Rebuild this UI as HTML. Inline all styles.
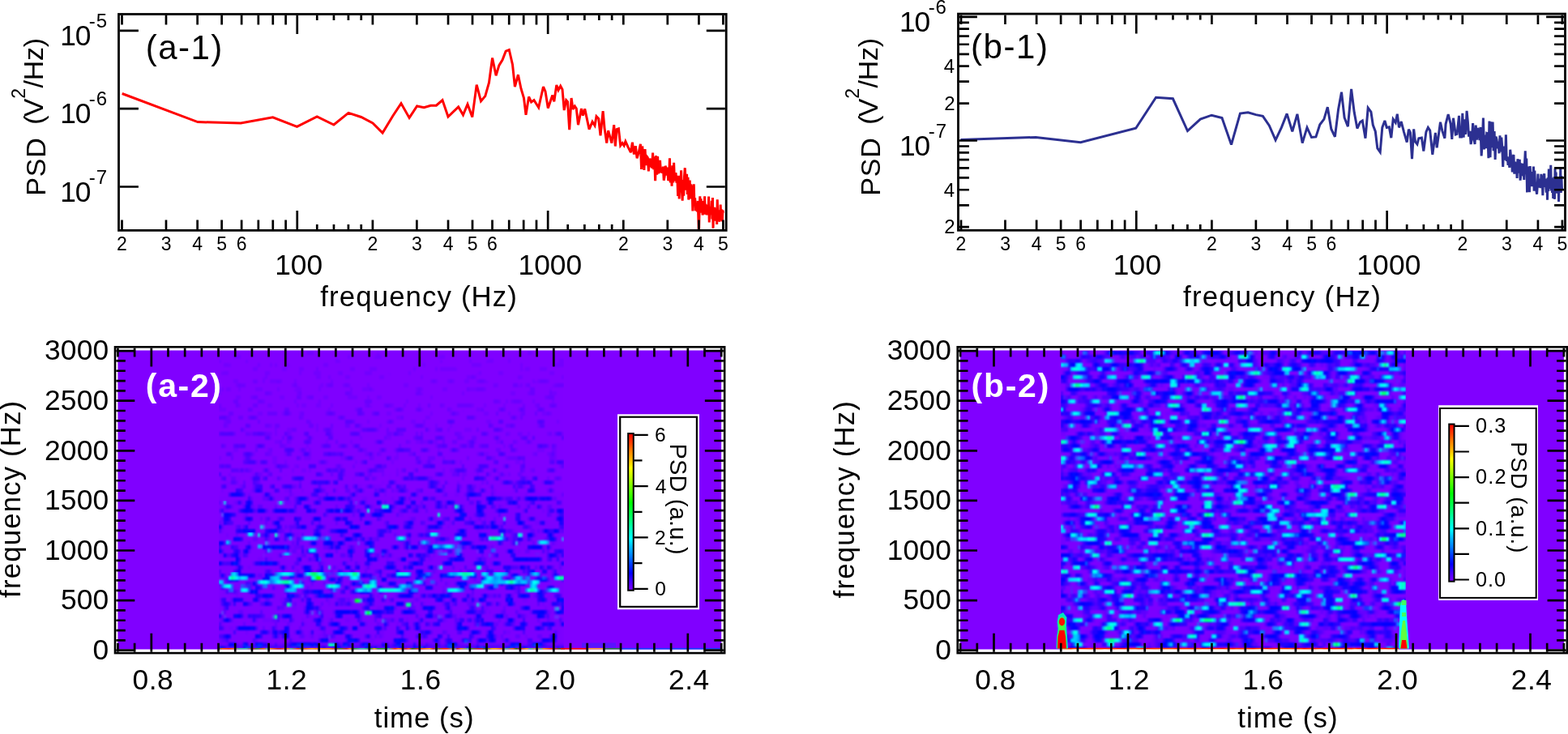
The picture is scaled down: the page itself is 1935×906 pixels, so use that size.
<!DOCTYPE html><html><head><meta charset="utf-8"><title>PSD spectra and spectrograms</title><style>html,body{margin:0;padding:0;background:#fff;overflow:hidden}svg{display:block}text{font-family:"Liberation Sans",Arial,Helvetica,sans-serif;font-kerning:none}</style></head><body>
<svg width="1935" height="906" viewBox="0 0 1935 906">
<rect width="1935" height="906" fill="#fff"/>
<clipPath id="a1c"><rect x="146.5" y="17.5" width="749.7" height="266.9"/></clipPath>
<path d="M150.7 115.5 L244 150.6 L297.1 152 L336.7 144.8 L366.5 156.3 L391.2 144 L411.9 154 L430 139.4 L445.7 144.5 L460 152 L472.1 164 L485 142.8 L495 127.6 L505.1 145.4 L514.6 131 L523.2 132.7 L531.5 130.2 L538.4 130.2 L546 123.6 L553 144 L565.7 131.9 L571.5 141.8 L577 128.6 L582.8 144.6 L588.2 104.6 L593.5 124.8 L598.8 118.6 L603.5 102 L607.6 71.5 L612.1 93.3 L615.9 80.6 L620 74 L624.2 63.2 L628.3 61.5 L632.5 79.7 L635.4 107 L639.4 92.2 L643 109.5 L646.5 121 L649 141.8 L652.6 119.5 L655.6 126 L659 123.6 L664.7 132.7 L670.5 107 L673 112.8 L676.3 133.5 L681.8 117.5 L683.8 125.3 L686.8 104.9 L689 111.2 L691.7 106.2 L694 110.4 L696.2 136 L698.7 123.6 L700.5 125.6 L702.7 160.1 L705.1 121 L707 134.9 L709.3 131 L711.3 134.1 L713.5 154.2 L717.5 134.1 L719.4 142.6 L721.7 134.4 L727.1 159.6 L731 150.3 L734 155 L736 143.7 L738.7 146.5 L741 167.3 L744.1 137.2 L746 158.1 L748.7 176.6 L750.6 161.2 L754.9 176.6 L757.7 154.2 L759.3 180.5 L761.1 159.6 L763.4 158.8 L765.7 179.7 L768.1 176.6 L770.1 179.7 L771.9 174.6 L775 181.3 L778.4 188.2 L780.4 175.8 L782.4 190.5 L784.3 180.2 L786.1 195.2 L788.2 188.2 L790.4 177.88 L791.54 208.91 L792.67 180.49 L793.8 192.78 L794.91 209.91 L796.02 184.14 L797.12 204.11 L798.2 193.17 L799.28 194.61 L800.35 211.3 L801.42 195.51 L802.47 206.26 L803.52 195.54 L804.55 207.51 L805.58 188.51 L806.61 209.29 L807.62 193.39 L808.63 223.32 L809.63 191.99 L810.62 215.79 L811.6 193 L812.58 214.35 L813.55 203.92 L814.51 197.86 L815.47 213.15 L816.42 207.14 L817.36 213.74 L818.3 205.61 L819.23 222.74 L820.15 217.47 L821.07 204.77 L821.98 207.58 L822.88 216.52 L823.78 206.61 L824.68 222.85 L825.56 220.6 L826.44 195.23 L827.32 225.42 L828.19 208.1 L829.05 229.8 L829.91 204.25 L830.76 225.56 L831.61 200.87 L832.45 223.37 L833.29 214.36 L834.12 214.54 L834.95 225.62 L835.77 216.71 L836.59 242.02 L837.4 216.9 L838.21 245.46 L839.01 216.95 L839.81 232.42 L840.6 210.38 L841.39 235.24 L842.17 247.78 L842.95 221.94 L843.73 241.59 L844.5 217.65 L845.26 207.22 L846.02 221.89 L846.78 234.59 L847.53 214.85 L848.28 240.08 L849.03 218.82 L849.77 246.57 L850.5 226.98 L851.23 222.65 L851.96 245.55 L852.69 227.61 L853.41 232 L854.12 231.46 L854.84 260.53 L855.55 237.98 L856.25 227.4 L856.95 253.52 L857.65 244.2 L858.35 260.26 L859.04 255.98 L859.72 258 L860.41 261.07 L861.09 247.95 L861.77 266.12 L862.44 290 L863.11 258.12 L863.78 242.29 L864.44 255.14 L865.1 245.25 L865.76 262.73 L866.41 247.98 L867.06 265.53 L867.71 260.14 L868.35 263.2 L868.99 260.46 L869.63 242.41 L870.27 264.71 L870.9 251.92 L871.53 262.48 L872.16 265.21 L872.78 255.16 L873.4 254.4 L874.02 264.88 L874.63 242.6 L875.25 274.51 L875.85 255.16 L876.46 262.63 L877.07 258.14 L877.67 265.02 L878.27 247.91 L878.86 270.47 L879.45 244.1 L880.05 281.63 L880.63 259.13 L881.22 267.42 L881.8 255.82 L882.38 272.57 L882.96 260.72 L883.54 268.86 L884.11 257.45 L884.68 276.96 L885.25 246.25 L885.81 266.99 L886.38 259.3 L886.94 268.13 L887.5 273.44 L888.05 272.33 L888.61 270.08 L889.16 252.67 L889.71 268.18 L890.26 258.56 L890.8 261.36 L891.34 273.37 L891.88 259.42 L892.42 262.87" fill="none" stroke="#ff0000" stroke-width="3" stroke-linejoin="miter" stroke-miterlimit="3" clip-path="url(#a1c)"/>
<rect x="146.5" y="17.5" width="749.7" height="266.9" fill="none" stroke="#000" stroke-width="2.8"/>
<path d="M150.5 283L150.5 271.5M150.5 18.9L150.5 30.4M204.98 283L204.98 271.5M204.98 18.9L204.98 30.4M243.64 283L243.64 271.5M243.64 18.9L243.64 30.4M273.62 283L273.62 271.5M273.62 18.9L273.62 30.4M298.12 283L298.12 271.5M298.12 18.9L298.12 30.4M318.83 283L318.83 271.5M318.83 18.9L318.83 30.4M336.78 283L336.78 271.5M336.78 18.9L336.78 30.4M352.6 283L352.6 271.5M352.6 18.9L352.6 30.4M366.76 283L366.76 260M366.76 18.9L366.76 41.9M459.9 283L459.9 271.5M459.9 18.9L459.9 30.4M514.38 283L514.38 271.5M514.38 18.9L514.38 30.4M553.04 283L553.04 271.5M553.04 18.9L553.04 30.4M583.02 283L583.02 271.5M583.02 18.9L583.02 30.4M607.52 283L607.52 271.5M607.52 18.9L607.52 30.4M628.23 283L628.23 271.5M628.23 18.9L628.23 30.4M646.18 283L646.18 271.5M646.18 18.9L646.18 30.4M662 283L662 271.5M662 18.9L662 30.4M676.16 283L676.16 260M676.16 18.9L676.16 41.9M769.3 283L769.3 271.5M769.3 18.9L769.3 30.4M823.78 283L823.78 271.5M823.78 18.9L823.78 30.4M862.44 283L862.44 271.5M862.44 18.9L862.44 30.4M892.42 283L892.42 271.5M892.42 18.9L892.42 30.4M391.26 283L391.26 277M391.26 18.9L391.26 24.9M411.97 283L411.97 277M411.97 18.9L411.97 24.9M429.92 283L429.92 277M429.92 18.9L429.92 24.9M445.74 283L445.74 277M445.74 18.9L445.74 24.9M700.66 283L700.66 277M700.66 18.9L700.66 24.9M721.37 283L721.37 277M721.37 18.9L721.37 24.9M739.32 283L739.32 277M739.32 18.9L739.32 24.9M755.14 283L755.14 277M755.14 18.9L755.14 24.9M147.9 37.9L170.9 37.9M894.8 37.9L871.8 37.9M147.9 134.2L170.9 134.2M894.8 134.2L871.8 134.2M147.9 230.5L170.9 230.5M894.8 230.5L871.8 230.5" stroke="#000" stroke-width="2.7" fill="none"/>
<text x="144.1" y="309.2" font-size="23">2</text>
<text x="198.65" y="309.2" font-size="23">3</text>
<text x="237.32" y="309.2" font-size="23">4</text>
<text x="267.25" y="309.2" font-size="23">5</text>
<text x="291.65" y="309.2" font-size="23">6</text>
<text x="453.5" y="309.2" font-size="23">2</text>
<text x="508.05" y="309.2" font-size="23">3</text>
<text x="546.72" y="309.2" font-size="23">4</text>
<text x="576.65" y="309.2" font-size="23">5</text>
<text x="601.05" y="309.2" font-size="23">6</text>
<text x="762.9" y="309.2" font-size="23">2</text>
<text x="817.45" y="309.2" font-size="23">3</text>
<text x="856.12" y="309.2" font-size="23">4</text>
<text x="886.05" y="309.2" font-size="23">5</text>
<clipPath id="b1c"><rect x="1182.5" y="17.1" width="749" height="267.2"/></clipPath>
<path d="M1185.4 172.5 L1278.4 169.4 L1333.5 175.7 L1401.7 158.2 L1426.5 120.2 L1447.4 121.8 L1465.5 161.6 L1481.3 147.1 L1495.2 142.2 L1508 145.6 L1519.5 178.6 L1530.4 140 L1540.1 138.8 L1549.9 141.6 L1558.4 143.4 L1566.3 155 L1574.1 172.8 L1581.4 157.4 L1588.1 140.4 L1594.8 162.3 L1600.9 140.8 L1607.2 176.5 L1613 157.4 L1618.5 169.5 L1623.9 168.9 L1628.8 153.8 L1633.9 147.1 L1638.3 132.3 L1642.8 159.2 L1647.4 168.9 L1651.6 134.9 L1655.5 113.7 L1659.1 145.2 L1663.4 156.2 L1667.6 110 L1671.2 138.6 L1674.9 158.6 L1678.5 150.7 L1681.3 148.9 L1685 170.7 L1688.2 133.1 L1691.9 138 L1694.3 154.3 L1697.3 162.2 L1699.8 182.9 L1703.2 187.7 L1705.8 157.4 L1708.9 148.9 L1711.3 157.4 L1714.3 156.8 L1716.8 170.1 L1719.2 147.1 L1722.2 151.3 L1724.3 140.7 L1726.5 157.4 L1729.2 150.1 L1732.5 162.8 L1736.2 175.6 L1738.4 159.8 L1740.4 163.4 L1742.5 196.2 L1744.7 159.4 L1746.5 175 L1748.9 178 L1750.8 170.7 L1754.4 170.1 L1756.8 186.5 L1759.9 162.8 L1762.3 157.4 L1764.7 161 L1767.8 190.8 L1771.4 164 L1773.2 182.3 L1777.5 150.7 L1779.9 161.6 L1782.9 170.7 L1784.1 153.1 L1787.2 141 L1790.2 153.1 L1791.8 171.9 L1793.5 145.8 L1796.3 165.9 L1798.1 165.3 L1800.5 142.8 L1801.7 168.9 L1803.6 168.9 L1804.8 139.85 L1806.14 169.73 L1807.46 147.46 L1808.77 165.91 L1810.07 136.91 L1811.36 150.05 L1812.63 168.64 L1813.89 161.9 L1815.14 178.08 L1816.38 171.12 L1817.61 152 L1818.82 170.34 L1820.03 178.03 L1821.22 154.49 L1822.41 172.65 L1823.58 158.03 L1824.74 161.23 L1825.9 173.17 L1827.04 156.95 L1828.17 192.39 L1829.3 174.73 L1830.41 145.46 L1831.52 184.41 L1832.62 166.49 L1833.7 183.09 L1834.78 164.41 L1835.85 164.78 L1836.92 195.11 L1837.97 149.42 L1839.02 194.27 L1840.05 150.28 L1841.08 182.08 L1842.11 150.53 L1843.12 186.16 L1844.13 162.13 L1845.13 196.99 L1846.12 168.58 L1847.1 172.43 L1848.08 183.21 L1849.05 174.69 L1850.01 189.29 L1850.97 167.34 L1851.92 187.44 L1852.86 169.5 L1853.8 181.93 L1854.73 205.96 L1855.65 180.57 L1856.57 184.38 L1857.48 197.76 L1858.38 166.19 L1859.28 198.86 L1860.18 193.38 L1861.06 203.88 L1861.94 197.37 L1862.82 206.98 L1863.69 184.74 L1864.55 193.04 L1865.41 193.19 L1866.26 212.45 L1867.11 192.93 L1867.95 191.08 L1868.79 214.75 L1869.62 199.55 L1870.45 209.57 L1871.27 200.6 L1872.09 219.83 L1872.9 196.2 L1873.71 208.83 L1874.51 213.39 L1875.31 196.86 L1876.1 222.69 L1876.89 216.04 L1877.67 203.58 L1878.45 201.77 L1879.23 217.24 L1880 204.51 L1880.76 221.82 L1881.52 202.13 L1882.28 186.41 L1883.03 215.21 L1883.78 195.45 L1884.53 237.38 L1885.27 209.76 L1886 218.92 L1886.73 205.55 L1887.46 237.22 L1888.19 204.98 L1888.91 220.28 L1889.62 212.17 L1890.34 230.15 L1891.05 213.78 L1891.75 224.17 L1892.45 205.47 L1893.15 235.82 L1893.85 210.5 L1894.54 227.47 L1895.22 232.93 L1895.91 235.32 L1896.59 239.71 L1897.27 229.71 L1897.94 214.47 L1898.61 231.74 L1899.28 221.9 L1899.94 231.17 L1900.6 220.66 L1901.26 232.1 L1901.91 214.85 L1902.56 231.8 L1903.21 220.5 L1903.85 241.29 L1904.49 220.86 L1905.13 216.61 L1905.77 214.35 L1906.4 230.88 L1907.03 222.5 L1907.66 230.21 L1908.28 237.67 L1908.9 220.56 L1909.52 246.65 L1910.13 219.37 L1910.75 236.16 L1911.35 208.57 L1911.96 233.11 L1912.57 222.49 L1913.17 232.16 L1913.77 203.78 L1914.36 235.59 L1914.95 224.17 L1915.55 238.01 L1916.13 219.57 L1916.72 245.04 L1917.3 232.63 L1917.88 218.37 L1918.46 245.85 L1919.04 208.14 L1919.61 230.07 L1920.18 212.55 L1920.75 238.64 L1921.31 224.42 L1921.88 231.45 L1922.44 237.21 L1923 218.84 L1923.55 249.02 L1924.11 223.6 L1924.66 232.42 L1925.21 235.25 L1925.76 207.13 L1926.3 237.85 L1926.84 216.97 L1927.38 231.27 L1927.92 234.18" fill="none" stroke="#2c3091" stroke-width="3" stroke-linejoin="miter" stroke-miterlimit="3" clip-path="url(#b1c)"/>
<rect x="1182.5" y="17.1" width="749" height="267.2" fill="none" stroke="#000" stroke-width="2.8"/>
<path d="M1186 282.9L1186 271.4M1186 18.5L1186 30M1240.48 282.9L1240.48 271.4M1240.48 18.5L1240.48 30M1279.14 282.9L1279.14 271.4M1279.14 18.5L1279.14 30M1309.12 282.9L1309.12 271.4M1309.12 18.5L1309.12 30M1333.62 282.9L1333.62 271.4M1333.62 18.5L1333.62 30M1354.33 282.9L1354.33 271.4M1354.33 18.5L1354.33 30M1372.28 282.9L1372.28 271.4M1372.28 18.5L1372.28 30M1388.1 282.9L1388.1 271.4M1388.1 18.5L1388.1 30M1402.26 282.9L1402.26 259.9M1402.26 18.5L1402.26 41.5M1495.4 282.9L1495.4 271.4M1495.4 18.5L1495.4 30M1549.88 282.9L1549.88 271.4M1549.88 18.5L1549.88 30M1588.54 282.9L1588.54 271.4M1588.54 18.5L1588.54 30M1618.52 282.9L1618.52 271.4M1618.52 18.5L1618.52 30M1643.02 282.9L1643.02 271.4M1643.02 18.5L1643.02 30M1663.73 282.9L1663.73 271.4M1663.73 18.5L1663.73 30M1681.68 282.9L1681.68 271.4M1681.68 18.5L1681.68 30M1697.5 282.9L1697.5 271.4M1697.5 18.5L1697.5 30M1711.66 282.9L1711.66 259.9M1711.66 18.5L1711.66 41.5M1804.8 282.9L1804.8 271.4M1804.8 18.5L1804.8 30M1859.28 282.9L1859.28 271.4M1859.28 18.5L1859.28 30M1897.94 282.9L1897.94 271.4M1897.94 18.5L1897.94 30M1927.92 282.9L1927.92 271.4M1927.92 18.5L1927.92 30M1426.76 282.9L1426.76 276.9M1426.76 18.5L1426.76 24.5M1447.47 282.9L1447.47 276.9M1447.47 18.5L1447.47 24.5M1465.42 282.9L1465.42 276.9M1465.42 18.5L1465.42 24.5M1481.24 282.9L1481.24 276.9M1481.24 18.5L1481.24 24.5M1736.16 282.9L1736.16 276.9M1736.16 18.5L1736.16 24.5M1756.87 282.9L1756.87 276.9M1756.87 18.5L1756.87 24.5M1774.82 282.9L1774.82 276.9M1774.82 18.5L1774.82 24.5M1790.64 282.9L1790.64 276.9M1790.64 18.5L1790.64 24.5M1183.9 20.9L1205.9 20.9M1930.1 20.9L1908.1 20.9M1183.9 173.5L1205.9 173.5M1930.1 173.5L1908.1 173.5M1183.9 127.56L1195.9 127.56M1930.1 127.56L1918.1 127.56M1183.9 100.69L1195.9 100.69M1930.1 100.69L1918.1 100.69M1183.9 81.63L1195.9 81.63M1930.1 81.63L1918.1 81.63M1183.9 66.84L1195.9 66.84M1930.1 66.84L1918.1 66.84M1183.9 54.75L1195.9 54.75M1930.1 54.75L1918.1 54.75M1183.9 44.54L1195.9 44.54M1930.1 44.54L1918.1 44.54M1183.9 35.69L1195.9 35.69M1930.1 35.69L1918.1 35.69M1183.9 27.88L1195.9 27.88M1930.1 27.88L1918.1 27.88M1183.9 280.16L1195.9 280.16M1930.1 280.16L1918.1 280.16M1183.9 253.29L1195.9 253.29M1930.1 253.29L1918.1 253.29M1183.9 234.23L1195.9 234.23M1930.1 234.23L1918.1 234.23M1183.9 219.44L1195.9 219.44M1930.1 219.44L1918.1 219.44M1183.9 207.35L1195.9 207.35M1930.1 207.35L1918.1 207.35M1183.9 197.14L1195.9 197.14M1930.1 197.14L1918.1 197.14M1183.9 188.29L1195.9 188.29M1930.1 188.29L1918.1 188.29M1183.9 180.48L1195.9 180.48M1930.1 180.48L1918.1 180.48" stroke="#000" stroke-width="2.7" fill="none"/>
<text x="1179.6" y="309.2" font-size="23">2</text>
<text x="1234.15" y="309.2" font-size="23">3</text>
<text x="1272.82" y="309.2" font-size="23">4</text>
<text x="1302.75" y="309.2" font-size="23">5</text>
<text x="1327.15" y="309.2" font-size="23">6</text>
<text x="1489" y="309.2" font-size="23">2</text>
<text x="1543.55" y="309.2" font-size="23">3</text>
<text x="1582.22" y="309.2" font-size="23">4</text>
<text x="1612.15" y="309.2" font-size="23">5</text>
<text x="1636.55" y="309.2" font-size="23">6</text>
<text x="1798.4" y="309.2" font-size="23">2</text>
<text x="1852.95" y="309.2" font-size="23">3</text>
<text x="1891.62" y="309.2" font-size="23">4</text>
<text x="1921.55" y="309.2" font-size="23">5</text>
<text x="179.7" y="72.7" font-size="42" letter-spacing="1.48">(a-1)</text>
<text x="74.21" y="55.9" font-size="35.3" letter-spacing="-1.2">10</text>
<text x="109.83" y="33.9" font-size="24" letter-spacing="0.83">-5</text>
<text x="74.21" y="152.2" font-size="35.3" letter-spacing="-1.2">10</text>
<text x="109.83" y="130.2" font-size="24" letter-spacing="0.88">-6</text>
<text x="74.21" y="248.5" font-size="35.3" letter-spacing="-1.2">10</text>
<text x="109.83" y="226.5" font-size="24" letter-spacing="1.03">-7</text>
<text x="339.21" y="339.4" font-size="35.3" letter-spacing="-0.01">100</text>
<text x="639.61" y="339.4" font-size="35.3" letter-spacing="-0.02">1000</text>
<text x="395.31" y="377.9" font-size="34.8" letter-spacing="1.11">frequency (Hz)</text>
<text x="-241.69" y="0" transform="translate(56.3 0) rotate(-90)" font-size="34" letter-spacing="0.85">PSD</text>
<text x="-153.81" y="0" transform="translate(53.2 0) rotate(-90)" font-size="34" letter-spacing="-1.84">(V</text>
<text x="-121.66" y="0" transform="translate(30.8 0) rotate(-90)" font-size="23">2</text>
<text x="-108.5" y="0" transform="translate(53.2 0) rotate(-90)" font-size="34" letter-spacing="-0.24">/Hz)</text>
<text x="-241.69" y="0" transform="translate(1085.7 0) rotate(-90)" font-size="34" letter-spacing="0.85">PSD</text>
<text x="-153.81" y="0" transform="translate(1082.6 0) rotate(-90)" font-size="34" letter-spacing="-1.84">(V</text>
<text x="-121.66" y="0" transform="translate(1060.2 0) rotate(-90)" font-size="23">2</text>
<text x="-108.5" y="0" transform="translate(1082.6 0) rotate(-90)" font-size="34" letter-spacing="-0.24">/Hz)</text>
<text x="1197.9" y="72.2" font-size="42" letter-spacing="1.63">(b-1)</text>
<text x="1110.01" y="38.9" font-size="35.3" letter-spacing="-1.2">10</text>
<text x="1145.63" y="16.9" font-size="24" letter-spacing="0.88">-6</text>
<text x="1110.01" y="191.5" font-size="35.3" letter-spacing="-1.2">10</text>
<text x="1145.63" y="169.5" font-size="24" letter-spacing="1.03">-7</text>
<text x="1164.66" y="89.93" font-size="24">4</text>
<text x="1165.16" y="135.86" font-size="24">2</text>
<text x="1164.66" y="242.53" font-size="24">4</text>
<text x="1165.16" y="288.46" font-size="24">2</text>
<text x="1373.71" y="339.4" font-size="35.3" letter-spacing="0.29">100</text>
<text x="1674.21" y="339.4" font-size="35.3" letter-spacing="0.21">1000</text>
<text x="1460.11" y="377.9" font-size="34.8" letter-spacing="1.2">frequency (Hz)</text>
<rect x="145.4" y="432.5" width="744.8" height="369" fill="#8000ff"/>
<linearGradient id="ga2_0" x1="0" y1="0" x2="0" y2="1"><stop offset="0" stop-color="rgb(12,125,0)"/><stop offset="0.17" stop-color="rgb(26,125,0)"/><stop offset="0.4" stop-color="rgb(51,125,0)"/><stop offset="0.5" stop-color="rgb(82,128,0)"/><stop offset="0.74" stop-color="rgb(97,128,0)"/><stop offset="0.82" stop-color="rgb(97,128,0)"/><stop offset="0.9" stop-color="rgb(87,128,0)"/><stop offset="0.98" stop-color="rgb(92,128,0)"/><stop offset="0.99" stop-color="rgb(102,135,0)"/><stop offset="1" stop-color="rgb(102,138,0)"/></linearGradient>
<filter id="fa2_0" x="0" y="0" width="1" height="1" color-interpolation-filters="sRGB"><feTurbulence type="fractalNoise" baseFrequency="0.08 0.15" numOctaves="2" seed="5" result="t"/><feColorMatrix in="t" type="matrix" values="1 0 0 0 0 1 0 0 0 0 1 0 0 0 0 0 0 0 0 1" result="n0"/><feFlood x="271" y="435" width="1" height="1" flood-color="#fff" result="fl"/><feComposite in="fl" x="270" y="433" width="3" height="5" result="tl"/><feTile in="tl" result="gr"/><feComposite in="n0" in2="gr" operator="in" result="sm"/><feMorphology in="sm" operator="dilate" radius="1 2" result="n"/><feComponentTransfer in="n" result="w"><feFuncR type="table" tableValues="0 0 0 0 0 0 0 0 0 0 0 0.03 0.07 0.1 0.12 0.13 0.14 0.14 0.14 0.14 0.14"/><feFuncG type="table" tableValues="0 0 0 0 0 0 0 0 0 0 0 0.03 0.07 0.1 0.12 0.13 0.14 0.14 0.14 0.14 0.14"/><feFuncB type="table" tableValues="0 0 0 0 0 0 0 0 0 0 0 0.03 0.07 0.1 0.12 0.13 0.14 0.14 0.14 0.14 0.14"/></feComponentTransfer><feComposite in="w" in2="SourceGraphic" operator="arithmetic" k1="1" k2="0" k3="0" k4="0" result="p"/><feColorMatrix in="p" type="matrix" values="1 0 0 0 0 1 0 0 0 0 1 0 0 0 0 0 0 0 0 1" result="p2"/><feColorMatrix in="SourceGraphic" type="matrix" values="0 1 0 0 0 0 1 0 0 0 0 1 0 0 0 0 0 0 0 1" result="g2"/><feComposite in="p2" in2="g2" operator="arithmetic" k1="0" k2="2.5" k3="1" k4="-0.5" result="v"/><feComponentTransfer in="v"><feFuncR type="table" tableValues="0.5 0.25 0 0 0 0 0 0 0 0 0 0.25 0.5 0.75 1 1 1 1 1"/><feFuncG type="table" tableValues="0 0 0 0.25 0.5 0.75 1 1 1 1 1 1 1 1 1 0.75 0.5 0.25 0"/><feFuncB type="table" tableValues="1 1 1 1 1 1 1 0.75 0.5 0.25 0 0 0 0 0 0 0 0 0"/><feFuncA type="table" tableValues="1 1"/></feComponentTransfer><feGaussianBlur stdDeviation="0.8"/></filter>
<rect x="270" y="433" width="426" height="368" fill="url(#ga2_0)" filter="url(#fa2_0)"/>
<filter id="fa2_1" x="0" y="0" width="1" height="1" color-interpolation-filters="sRGB"><feTurbulence type="fractalNoise" baseFrequency="0.06 0.22" numOctaves="2" seed="21" result="t"/><feColorMatrix in="t" type="matrix" values="1 0 0 0 0 1 0 0 0 0 1 0 0 0 0 1 0 0 0 0" result="n0"/><feFlood x="271" y="620" width="1" height="1" flood-color="#fff" result="fl"/><feComposite in="fl" x="270" y="618" width="3" height="5" result="tl"/><feTile in="tl" result="gr"/><feComposite in="n0" in2="gr" operator="in" result="sm"/><feMorphology in="sm" operator="dilate" radius="1 2" result="n"/><feComponentTransfer in="n"><feFuncR type="table" tableValues="0.5 0.47 0.45 0.42 0.39 0.37 0.34 0.32 0.29 0.26 0.24 0.21 0.19 0.16 0.13 0.11 0.08 0.05 0.03 0 0 0 0 0 0 0 0 0 0 0 0 0 0 0 0 0 0 0.26 0.54 0.82 1"/><feFuncG type="table" tableValues="0 0 0 0 0 0 0 0 0 0 0 0 0 0 0 0 0 0 0 0 0.03 0.05 0.08 0.1 0.13 0.3 0.47 0.64 0.77 0.91 1 1 1 1 1 1 1 1 1 1 0.9"/><feFuncB type="table" tableValues="1 1 1 1 1 1 1 1 1 1 1 1 1 1 1 1 1 1 1 1 1 1 1 1 1 1 1 1 1 1 0.98 0.88 0.79 0.62 0.45 0.28 0.02 0 0 0 0"/><feFuncA type="table" tableValues="0 0 0 0 0 0 0 0 0 0 0 0 0 0 0 0 0 0 0 0 0 0 0 0 0 0 0 0 0 0 0.33 1 1 1 1 1 1 1 1 1 1"/></feComponentTransfer><feGaussianBlur stdDeviation="0.8"/></filter>
<rect x="270" y="618" width="426" height="86" fill="#000" filter="url(#fa2_1)"/>
<filter id="fa2_2" x="0" y="0" width="1" height="1" color-interpolation-filters="sRGB"><feTurbulence type="fractalNoise" baseFrequency="0.04 0.25" numOctaves="2" seed="24" result="t"/><feColorMatrix in="t" type="matrix" values="1 0 0 0 0 1 0 0 0 0 1 0 0 0 0 1 0 0 0 0" result="n0"/><feFlood x="271" y="659" width="1" height="1" flood-color="#fff" result="fl"/><feComposite in="fl" x="270" y="657" width="3" height="5" result="tl"/><feTile in="tl" result="gr"/><feComposite in="n0" in2="gr" operator="in" result="sm"/><feMorphology in="sm" operator="dilate" radius="1 2" result="n"/><feComponentTransfer in="n"><feFuncR type="table" tableValues="0.5 0.47 0.45 0.42 0.39 0.37 0.34 0.32 0.29 0.26 0.24 0.21 0.19 0.16 0.13 0.11 0.08 0.05 0.03 0 0 0 0 0 0 0 0 0 0 0 0 0 0 0 0 0 0 0.26 0.54 0.82 1"/><feFuncG type="table" tableValues="0 0 0 0 0 0 0 0 0 0 0 0 0 0 0 0 0 0 0 0 0.03 0.05 0.08 0.1 0.13 0.3 0.47 0.64 0.77 0.91 1 1 1 1 1 1 1 1 1 1 0.9"/><feFuncB type="table" tableValues="1 1 1 1 1 1 1 1 1 1 1 1 1 1 1 1 1 1 1 1 1 1 1 1 1 1 1 1 1 1 0.98 0.88 0.79 0.62 0.45 0.28 0.02 0 0 0 0"/><feFuncA type="table" tableValues="0 0 0 0 0 0 0 0 0 0 0 0 0 0 0 0 0 0 0 0 0 0 0 0 0 0 0 0.5 1 1 1 1 1 1 1 1 1 1 1 1 1"/></feComponentTransfer><feGaussianBlur stdDeviation="0.8"/></filter>
<rect x="270" y="657" width="426" height="29" fill="#000" filter="url(#fa2_2)"/>
<filter id="fa2_3" x="0" y="0" width="1" height="1" color-interpolation-filters="sRGB"><feTurbulence type="fractalNoise" baseFrequency="0.045 0.25" numOctaves="2" seed="22" result="t"/><feColorMatrix in="t" type="matrix" values="1 0 0 0 0 1 0 0 0 0 1 0 0 0 0 1 0 0 0 0" result="n0"/><feFlood x="271" y="708" width="1" height="1" flood-color="#fff" result="fl"/><feComposite in="fl" x="270" y="706" width="3" height="5" result="tl"/><feTile in="tl" result="gr"/><feComposite in="n0" in2="gr" operator="in" result="sm"/><feMorphology in="sm" operator="dilate" radius="1 2" result="n"/><feComponentTransfer in="n"><feFuncR type="table" tableValues="0.5 0.47 0.43 0.4 0.36 0.33 0.3 0.26 0.23 0.2 0.16 0.13 0.09 0.06 0.03 0 0 0 0 0 0 0 0 0 0 0 0 0 0 0 0 0 0 0.07 0.32 0.64 0.99 1 1 1 1"/><feFuncG type="table" tableValues="0 0 0 0 0 0 0 0 0 0 0 0 0 0 0 0.01 0.04 0.07 0.11 0.14 0.18 0.34 0.51 0.66 0.79 0.91 1 1 1 1 1 1 1 1 1 1 1 0.66 0.37 0.19 0"/><feFuncB type="table" tableValues="1 1 1 1 1 1 1 1 1 1 1 1 1 1 1 1 1 1 1 1 1 1 1 1 1 1 1 0.92 0.83 0.69 0.55 0.41 0.18 0 0 0 0 0 0 0 0"/><feFuncA type="table" tableValues="0 0 0 0 0 0 0 0 0 0 0 0 0 0 0 0 0 0 0 0 0 0 0.67 1 1 1 1 1 1 1 1 1 1 1 1 1 1 1 1 1 1"/></feComponentTransfer><feGaussianBlur stdDeviation="0.8"/></filter>
<rect x="270" y="706" width="426" height="26" fill="#000" filter="url(#fa2_3)"/>
<filter id="fa2_4" x="0" y="0" width="1" height="1" color-interpolation-filters="sRGB"><feTurbulence type="fractalNoise" baseFrequency="0.06 0.22" numOctaves="2" seed="23" result="t"/><feColorMatrix in="t" type="matrix" values="1 0 0 0 0 1 0 0 0 0 1 0 0 0 0 1 0 0 0 0" result="n0"/><feFlood x="271" y="736" width="1" height="1" flood-color="#fff" result="fl"/><feComposite in="fl" x="270" y="734" width="3" height="5" result="tl"/><feTile in="tl" result="gr"/><feComposite in="n0" in2="gr" operator="in" result="sm"/><feMorphology in="sm" operator="dilate" radius="1 2" result="n"/><feComponentTransfer in="n"><feFuncR type="table" tableValues="0.5 0.47 0.45 0.42 0.39 0.37 0.34 0.32 0.29 0.26 0.24 0.21 0.19 0.16 0.13 0.11 0.08 0.05 0.03 0 0 0 0 0 0 0 0 0 0 0 0 0 0 0 0 0 0 0.26 0.54 0.82 1"/><feFuncG type="table" tableValues="0 0 0 0 0 0 0 0 0 0 0 0 0 0 0 0 0 0 0 0 0.03 0.05 0.08 0.1 0.13 0.3 0.47 0.64 0.77 0.91 1 1 1 1 1 1 1 1 1 1 0.9"/><feFuncB type="table" tableValues="1 1 1 1 1 1 1 1 1 1 1 1 1 1 1 1 1 1 1 1 1 1 1 1 1 1 1 1 1 1 0.98 0.88 0.79 0.62 0.45 0.28 0.02 0 0 0 0"/><feFuncA type="table" tableValues="0 0 0 0 0 0 0 0 0 0 0 0 0 0 0 0 0 0 0 0 0 0 0 0 0 0 0 0 0 0 0 0.5 1 1 1 1 1 1 1 1 1"/></feComponentTransfer><feGaussianBlur stdDeviation="0.8"/></filter>
<rect x="270" y="734" width="426" height="64" fill="#000" filter="url(#fa2_4)"/>
<linearGradient id="bl1" x1="0" y1="0" x2="1" y2="0"><stop offset="0" stop-color="#208000"/><stop offset="0.01" stop-color="#ff6000"/><stop offset="0.03" stop-color="#ff3000"/><stop offset="0.04" stop-color="#ff6000"/><stop offset="0.06" stop-color="#40c0a0"/><stop offset="0.07" stop-color="#40c0a0"/><stop offset="0.08" stop-color="#40c0a0"/><stop offset="0.1" stop-color="#d02020"/><stop offset="0.11" stop-color="#30a020"/><stop offset="0.13" stop-color="#ff6000"/><stop offset="0.14" stop-color="#40c0a0"/><stop offset="0.15" stop-color="#ff9000"/><stop offset="0.17" stop-color="#d02020"/><stop offset="0.18" stop-color="#d02020"/><stop offset="0.2" stop-color="#ff9000"/><stop offset="0.21" stop-color="#40c0a0"/><stop offset="0.23" stop-color="#ff3000"/><stop offset="0.24" stop-color="#30a020"/><stop offset="0.25" stop-color="#ff6000"/><stop offset="0.27" stop-color="#ffb000"/><stop offset="0.28" stop-color="#ff9000"/><stop offset="0.3" stop-color="#ff9000"/><stop offset="0.31" stop-color="#ff9000"/><stop offset="0.32" stop-color="#ff9000"/><stop offset="0.34" stop-color="#d02020"/><stop offset="0.35" stop-color="#30a020"/><stop offset="0.37" stop-color="#d02020"/><stop offset="0.38" stop-color="#ff9000"/><stop offset="0.39" stop-color="#30a020"/><stop offset="0.41" stop-color="#40c0a0"/><stop offset="0.42" stop-color="#40c0a0"/><stop offset="0.44" stop-color="#30a020"/><stop offset="0.45" stop-color="#ffb000"/><stop offset="0.46" stop-color="#30a020"/><stop offset="0.48" stop-color="#30a020"/><stop offset="0.49" stop-color="#40c0a0"/><stop offset="0.51" stop-color="#ff3000"/><stop offset="0.52" stop-color="#ff9000"/><stop offset="0.54" stop-color="#d02020"/><stop offset="0.55" stop-color="#ff6000"/><stop offset="0.56" stop-color="#208000"/><stop offset="0.58" stop-color="#ff3000"/><stop offset="0.59" stop-color="#ff6000"/><stop offset="0.61" stop-color="#ffb000"/><stop offset="0.62" stop-color="#d02020"/><stop offset="0.63" stop-color="#30a020"/><stop offset="0.65" stop-color="#ff3000"/><stop offset="0.66" stop-color="#ff3000"/><stop offset="0.68" stop-color="#40c0a0"/><stop offset="0.69" stop-color="#d02020"/><stop offset="0.7" stop-color="#ff9000"/><stop offset="0.72" stop-color="#40c0a0"/><stop offset="0.73" stop-color="#30a020"/><stop offset="0.75" stop-color="#d02020"/><stop offset="0.76" stop-color="#d02020"/><stop offset="0.77" stop-color="#208000"/><stop offset="0.79" stop-color="#ffb000"/><stop offset="0.8" stop-color="#ffb000"/><stop offset="0.82" stop-color="#ff6000"/><stop offset="0.83" stop-color="#40c0a0"/><stop offset="0.85" stop-color="#ff6000"/><stop offset="0.86" stop-color="#208000"/><stop offset="0.87" stop-color="#d02020"/><stop offset="0.89" stop-color="#ffb000"/><stop offset="0.9" stop-color="#40c0a0"/><stop offset="0.92" stop-color="#ff9000"/><stop offset="0.93" stop-color="#40c0a0"/><stop offset="0.94" stop-color="#ff9000"/><stop offset="0.96" stop-color="#ff3000"/><stop offset="0.97" stop-color="#d02020"/><stop offset="0.99" stop-color="#208000"/><stop offset="1" stop-color="#208000"/></linearGradient><rect x="269.6" y="799.9" width="427.4" height="1.6" fill="url(#bl1)"/>
<rect x="692" y="799.9" width="33" height="1.6" fill="#ff0000"/>
<rect x="725" y="799.9" width="21" height="1.6" fill="#ffa030"/>
<rect x="746" y="799.9" width="20" height="1.6" fill="#208040"/>
<rect x="766" y="799.9" width="124.2" height="1.6" fill="#1040ff"/>
<rect x="718" y="793.5" width="42" height="6" fill="#4020ff" opacity="0.6"/>
<rect x="142" y="428.3" width="752.15" height="377.8" fill="none" stroke="#000" stroke-width="2.6"/>
<path d="M145.42 804.8L145.42 793.8M145.42 429.6L145.42 440.6M166.11 804.8L166.11 793.8M166.11 429.6L166.11 440.6M186.8 804.8L186.8 781.8M186.8 429.6L186.8 452.6M207.49 804.8L207.49 793.8M207.49 429.6L207.49 440.6M228.17 804.8L228.17 793.8M228.17 429.6L228.17 440.6M248.86 804.8L248.86 793.8M248.86 429.6L248.86 440.6M269.55 804.8L269.55 793.8M269.55 429.6L269.55 440.6M290.24 804.8L290.24 793.8M290.24 429.6L290.24 440.6M310.93 804.8L310.93 793.8M310.93 429.6L310.93 440.6M331.61 804.8L331.61 793.8M331.61 429.6L331.61 440.6M352.3 804.8L352.3 781.8M352.3 429.6L352.3 452.6M372.99 804.8L372.99 793.8M372.99 429.6L372.99 440.6M393.68 804.8L393.68 793.8M393.68 429.6L393.68 440.6M414.36 804.8L414.36 793.8M414.36 429.6L414.36 440.6M435.05 804.8L435.05 793.8M435.05 429.6L435.05 440.6M455.74 804.8L455.74 793.8M455.74 429.6L455.74 440.6M476.43 804.8L476.43 793.8M476.43 429.6L476.43 440.6M497.11 804.8L497.11 793.8M497.11 429.6L497.11 440.6M517.8 804.8L517.8 781.8M517.8 429.6L517.8 452.6M538.49 804.8L538.49 793.8M538.49 429.6L538.49 440.6M559.17 804.8L559.17 793.8M559.17 429.6L559.17 440.6M579.86 804.8L579.86 793.8M579.86 429.6L579.86 440.6M600.55 804.8L600.55 793.8M600.55 429.6L600.55 440.6M621.24 804.8L621.24 793.8M621.24 429.6L621.24 440.6M641.93 804.8L641.93 793.8M641.93 429.6L641.93 440.6M662.61 804.8L662.61 793.8M662.61 429.6L662.61 440.6M683.3 804.8L683.3 781.8M683.3 429.6L683.3 452.6M703.99 804.8L703.99 793.8M703.99 429.6L703.99 440.6M724.67 804.8L724.67 793.8M724.67 429.6L724.67 440.6M745.36 804.8L745.36 793.8M745.36 429.6L745.36 440.6M766.05 804.8L766.05 793.8M766.05 429.6L766.05 440.6M786.74 804.8L786.74 793.8M786.74 429.6L786.74 440.6M807.42 804.8L807.42 793.8M807.42 429.6L807.42 440.6M828.11 804.8L828.11 793.8M828.11 429.6L828.11 440.6M848.8 804.8L848.8 781.8M848.8 429.6L848.8 452.6M869.49 804.8L869.49 793.8M869.49 429.6L869.49 440.6M890.17 804.8L890.17 793.8M890.17 429.6L890.17 440.6M143.3 802.7L166.3 802.7M892.85 802.7L869.85 802.7M143.3 790.38L154.8 790.38M892.85 790.38L881.35 790.38M143.3 778.06L154.8 778.06M892.85 778.06L881.35 778.06M143.3 765.74L154.8 765.74M892.85 765.74L881.35 765.74M143.3 753.42L154.8 753.42M892.85 753.42L881.35 753.42M143.3 741.1L166.3 741.1M892.85 741.1L869.85 741.1M143.3 728.78L154.8 728.78M892.85 728.78L881.35 728.78M143.3 716.46L154.8 716.46M892.85 716.46L881.35 716.46M143.3 704.14L154.8 704.14M892.85 704.14L881.35 704.14M143.3 691.82L154.8 691.82M892.85 691.82L881.35 691.82M143.3 679.5L166.3 679.5M892.85 679.5L869.85 679.5M143.3 667.18L154.8 667.18M892.85 667.18L881.35 667.18M143.3 654.86L154.8 654.86M892.85 654.86L881.35 654.86M143.3 642.54L154.8 642.54M892.85 642.54L881.35 642.54M143.3 630.22L154.8 630.22M892.85 630.22L881.35 630.22M143.3 617.9L166.3 617.9M892.85 617.9L869.85 617.9M143.3 605.58L154.8 605.58M892.85 605.58L881.35 605.58M143.3 593.26L154.8 593.26M892.85 593.26L881.35 593.26M143.3 580.94L154.8 580.94M892.85 580.94L881.35 580.94M143.3 568.62L154.8 568.62M892.85 568.62L881.35 568.62M143.3 556.3L166.3 556.3M892.85 556.3L869.85 556.3M143.3 543.98L154.8 543.98M892.85 543.98L881.35 543.98M143.3 531.66L154.8 531.66M892.85 531.66L881.35 531.66M143.3 519.34L154.8 519.34M892.85 519.34L881.35 519.34M143.3 507.02L154.8 507.02M892.85 507.02L881.35 507.02M143.3 494.7L166.3 494.7M892.85 494.7L869.85 494.7M143.3 482.38L154.8 482.38M892.85 482.38L881.35 482.38M143.3 470.06L154.8 470.06M892.85 470.06L881.35 470.06M143.3 457.74L154.8 457.74M892.85 457.74L881.35 457.74M143.3 445.42L154.8 445.42M892.85 445.42L881.35 445.42M143.3 433.1L166.3 433.1M892.85 433.1L869.85 433.1" stroke="#000" stroke-width="2.7" fill="none"/>
<text x="114.45" y="813.9" font-size="35.3" letter-spacing="0.15">0</text>
<text x="74.88" y="752.3" font-size="35.3" letter-spacing="0.15">500</text>
<text x="55.1" y="690.7" font-size="35.3" letter-spacing="0.15">1000</text>
<text x="55.1" y="629.1" font-size="35.3" letter-spacing="0.15">1500</text>
<text x="55.1" y="567.5" font-size="35.3" letter-spacing="0.15">2000</text>
<text x="55.1" y="505.9" font-size="35.3" letter-spacing="0.15">2500</text>
<text x="55.1" y="444.3" font-size="35.3" letter-spacing="0.15">3000</text>
<text x="163.44" y="850.5" font-size="35.3" letter-spacing="0.6">0.8</text>
<text x="328.41" y="850.5" font-size="35.3" letter-spacing="0.6">1.2</text>
<text x="493.8" y="850.5" font-size="35.3" letter-spacing="0.6">1.6</text>
<text x="659.67" y="850.5" font-size="35.3" letter-spacing="0.6">2.0</text>
<text x="824.99" y="850.5" font-size="35.3" letter-spacing="0.6">2.4</text>
<rect x="1185.1" y="432.5" width="744.8" height="369" fill="#8000ff"/>
<linearGradient id="gb2_0" x1="0" y1="0" x2="0" y2="1"><stop offset="0" stop-color="rgb(92,128,0)"/><stop offset="1" stop-color="rgb(92,128,0)"/></linearGradient>
<filter id="fb2_0" x="0" y="0" width="1" height="1" color-interpolation-filters="sRGB"><feTurbulence type="fractalNoise" baseFrequency="0.06 0.12" numOctaves="2" seed="9" result="t"/><feColorMatrix in="t" type="matrix" values="1 0 0 0 0 1 0 0 0 0 1 0 0 0 0 0 0 0 0 1" result="n0"/><feFlood x="1310" y="435" width="1" height="1" flood-color="#fff" result="fl"/><feComposite in="fl" x="1309" y="433" width="3" height="5" result="tl"/><feTile in="tl" result="gr"/><feComposite in="n0" in2="gr" operator="in" result="sm"/><feMorphology in="sm" operator="dilate" radius="1 2" result="n"/><feComponentTransfer in="n" result="w"><feFuncR type="table" tableValues="0 0 0 0 0 0 0 0 0 0.01 0.04 0.07 0.09 0.11 0.12 0.12 0.13 0.13 0.13 0.13 0.13"/><feFuncG type="table" tableValues="0 0 0 0 0 0 0 0 0 0.01 0.04 0.07 0.09 0.11 0.12 0.12 0.13 0.13 0.13 0.13 0.13"/><feFuncB type="table" tableValues="0 0 0 0 0 0 0 0 0 0.01 0.04 0.07 0.09 0.11 0.12 0.12 0.13 0.13 0.13 0.13 0.13"/></feComponentTransfer><feComposite in="w" in2="SourceGraphic" operator="arithmetic" k1="1" k2="0" k3="0" k4="0" result="p"/><feColorMatrix in="p" type="matrix" values="1 0 0 0 0 1 0 0 0 0 1 0 0 0 0 0 0 0 0 1" result="p2"/><feColorMatrix in="SourceGraphic" type="matrix" values="0 1 0 0 0 0 1 0 0 0 0 1 0 0 0 0 0 0 0 1" result="g2"/><feComposite in="p2" in2="g2" operator="arithmetic" k1="0" k2="2.5" k3="1" k4="-0.5" result="v"/><feComponentTransfer in="v"><feFuncR type="table" tableValues="0.5 0.25 0 0 0 0 0 0 0 0 0 0.25 0.5 0.75 1 1 1 1 1"/><feFuncG type="table" tableValues="0 0 0 0.25 0.5 0.75 1 1 1 1 1 1 1 1 1 0.75 0.5 0.25 0"/><feFuncB type="table" tableValues="1 1 1 1 1 1 1 0.75 0.5 0.25 0 0 0 0 0 0 0 0 0"/><feFuncA type="table" tableValues="1 1"/></feComponentTransfer><feGaussianBlur stdDeviation="0.8"/></filter>
<rect x="1309" y="433" width="426" height="368" fill="url(#gb2_0)" filter="url(#fb2_0)"/>
<filter id="fb2_1" x="0" y="0" width="1" height="1" color-interpolation-filters="sRGB"><feTurbulence type="fractalNoise" baseFrequency="0.05 0.2" numOctaves="2" seed="31" result="t"/><feColorMatrix in="t" type="matrix" values="1 0 0 0 0 1 0 0 0 0 1 0 0 0 0 1 0 0 0 0" result="n0"/><feFlood x="1310" y="435" width="1" height="1" flood-color="#fff" result="fl"/><feComposite in="fl" x="1309" y="433" width="3" height="5" result="tl"/><feTile in="tl" result="gr"/><feComposite in="n0" in2="gr" operator="in" result="sm"/><feMorphology in="sm" operator="dilate" radius="1 2" result="n"/><feComponentTransfer in="n"><feFuncR type="table" tableValues="0.5 0.47 0.45 0.42 0.39 0.36 0.34 0.31 0.28 0.26 0.23 0.2 0.17 0.15 0.12 0.09 0.07 0.04 0.01 0 0 0 0 0 0 0 0 0 0 0 0 0 0 0 0 0 0.06 0.26 0.54 0.82 1"/><feFuncG type="table" tableValues="0 0 0 0 0 0 0 0 0 0 0 0 0 0 0 0 0 0 0 0.02 0.04 0.07 0.1 0.12 0.32 0.57 0.76 0.87 0.99 1 1 1 1 1 1 1 1 1 1 1 0.9"/><feFuncB type="table" tableValues="1 1 1 1 1 1 1 1 1 1 1 1 1 1 1 1 1 1 1 1 1 1 1 1 1 1 1 1 1 0.92 0.83 0.71 0.56 0.42 0.27 0.1 0 0 0 0 0"/><feFuncA type="table" tableValues="0 0 0 0 0 0 0 0 0 0 0 0 0 0 0 0 0 0 0 0 0 0 0 0 0 0.62 1 1 1 1 1 1 1 1 1 1 1 1 1 1 1"/></feComponentTransfer><feGaussianBlur stdDeviation="0.8"/></filter>
<rect x="1309" y="433" width="426" height="368" fill="#000" filter="url(#fb2_1)"/>
<linearGradient id="bl3" x1="0" y1="0" x2="1" y2="0"><stop offset="0" stop-color="#ff4000"/><stop offset="0.01" stop-color="#ff1000"/><stop offset="0.03" stop-color="#ff1000"/><stop offset="0.04" stop-color="#ff4000"/><stop offset="0.06" stop-color="#ff0000"/><stop offset="0.07" stop-color="#ff1000"/><stop offset="0.09" stop-color="#ff3000"/><stop offset="0.1" stop-color="#ff1000"/><stop offset="0.12" stop-color="#ff2000"/><stop offset="0.13" stop-color="#ff1000"/><stop offset="0.14" stop-color="#ff2000"/><stop offset="0.16" stop-color="#ff3000"/><stop offset="0.17" stop-color="#ff0000"/><stop offset="0.19" stop-color="#ff1000"/><stop offset="0.2" stop-color="#ff4000"/><stop offset="0.22" stop-color="#ff4000"/><stop offset="0.23" stop-color="#ff3000"/><stop offset="0.25" stop-color="#ff1000"/><stop offset="0.26" stop-color="#ff1000"/><stop offset="0.28" stop-color="#ff3000"/><stop offset="0.29" stop-color="#ff3000"/><stop offset="0.3" stop-color="#ff4000"/><stop offset="0.32" stop-color="#ff4000"/><stop offset="0.33" stop-color="#ff4000"/><stop offset="0.35" stop-color="#ff1000"/><stop offset="0.36" stop-color="#ff3000"/><stop offset="0.38" stop-color="#ff2000"/><stop offset="0.39" stop-color="#ff2000"/><stop offset="0.41" stop-color="#ff4000"/><stop offset="0.42" stop-color="#ff1000"/><stop offset="0.43" stop-color="#ff2000"/><stop offset="0.45" stop-color="#ff0000"/><stop offset="0.46" stop-color="#ff2000"/><stop offset="0.48" stop-color="#ff0000"/><stop offset="0.49" stop-color="#ff3000"/><stop offset="0.51" stop-color="#ff1000"/><stop offset="0.52" stop-color="#ff3000"/><stop offset="0.54" stop-color="#ff3000"/><stop offset="0.55" stop-color="#ff3000"/><stop offset="0.57" stop-color="#ff1000"/><stop offset="0.58" stop-color="#ff3000"/><stop offset="0.59" stop-color="#ff4000"/><stop offset="0.61" stop-color="#ff0000"/><stop offset="0.62" stop-color="#ff2000"/><stop offset="0.64" stop-color="#ff2000"/><stop offset="0.65" stop-color="#ff4000"/><stop offset="0.67" stop-color="#ff3000"/><stop offset="0.68" stop-color="#ff4000"/><stop offset="0.7" stop-color="#ff0000"/><stop offset="0.71" stop-color="#ff3000"/><stop offset="0.72" stop-color="#ff0000"/><stop offset="0.74" stop-color="#ff3000"/><stop offset="0.75" stop-color="#ff1000"/><stop offset="0.77" stop-color="#ff3000"/><stop offset="0.78" stop-color="#ff1000"/><stop offset="0.8" stop-color="#ff0000"/><stop offset="0.81" stop-color="#ff1000"/><stop offset="0.83" stop-color="#ff1000"/><stop offset="0.84" stop-color="#ff3000"/><stop offset="0.86" stop-color="#ff1000"/><stop offset="0.87" stop-color="#ff4000"/><stop offset="0.88" stop-color="#ff0000"/><stop offset="0.9" stop-color="#ff2000"/><stop offset="0.91" stop-color="#ff0000"/><stop offset="0.93" stop-color="#ff1000"/><stop offset="0.94" stop-color="#ff4000"/><stop offset="0.96" stop-color="#ff0000"/><stop offset="0.97" stop-color="#ff1000"/><stop offset="0.99" stop-color="#ff1000"/><stop offset="1" stop-color="#ff1000"/></linearGradient><rect x="1309" y="799.7" width="417" height="1.4" fill="url(#bl3)"/>
<linearGradient id="bl4" x1="0" y1="0" x2="1" y2="0"><stop offset="0" stop-color="#ffd0a0"/><stop offset="0.01" stop-color="#ffc090"/><stop offset="0.03" stop-color="#ffb080"/><stop offset="0.04" stop-color="#ffe0b0"/><stop offset="0.06" stop-color="#ffe0b0"/><stop offset="0.07" stop-color="#ffd0a0"/><stop offset="0.09" stop-color="#ffb080"/><stop offset="0.1" stop-color="#ffb080"/><stop offset="0.12" stop-color="#ffb080"/><stop offset="0.13" stop-color="#ffe0b0"/><stop offset="0.14" stop-color="#ffc090"/><stop offset="0.16" stop-color="#ffb080"/><stop offset="0.17" stop-color="#ffd0a0"/><stop offset="0.19" stop-color="#ffc090"/><stop offset="0.2" stop-color="#ffc090"/><stop offset="0.22" stop-color="#ffd0a0"/><stop offset="0.23" stop-color="#ffb080"/><stop offset="0.25" stop-color="#ffc090"/><stop offset="0.26" stop-color="#ffd0a0"/><stop offset="0.28" stop-color="#ffb080"/><stop offset="0.29" stop-color="#ffc090"/><stop offset="0.3" stop-color="#ffc090"/><stop offset="0.32" stop-color="#ffd0a0"/><stop offset="0.33" stop-color="#ffd0a0"/><stop offset="0.35" stop-color="#ffc090"/><stop offset="0.36" stop-color="#ffc090"/><stop offset="0.38" stop-color="#ffc090"/><stop offset="0.39" stop-color="#ffb080"/><stop offset="0.41" stop-color="#ffc090"/><stop offset="0.42" stop-color="#ffe0b0"/><stop offset="0.43" stop-color="#ffd0a0"/><stop offset="0.45" stop-color="#ffd0a0"/><stop offset="0.46" stop-color="#ffd0a0"/><stop offset="0.48" stop-color="#ffe0b0"/><stop offset="0.49" stop-color="#ffc090"/><stop offset="0.51" stop-color="#ffb080"/><stop offset="0.52" stop-color="#ffc090"/><stop offset="0.54" stop-color="#ffb080"/><stop offset="0.55" stop-color="#ffc090"/><stop offset="0.57" stop-color="#ffc090"/><stop offset="0.58" stop-color="#ffd0a0"/><stop offset="0.59" stop-color="#ffe0b0"/><stop offset="0.61" stop-color="#ffe0b0"/><stop offset="0.62" stop-color="#ffc090"/><stop offset="0.64" stop-color="#ffe0b0"/><stop offset="0.65" stop-color="#ffe0b0"/><stop offset="0.67" stop-color="#ffd0a0"/><stop offset="0.68" stop-color="#ffd0a0"/><stop offset="0.7" stop-color="#ffc090"/><stop offset="0.71" stop-color="#ffc090"/><stop offset="0.72" stop-color="#ffb080"/><stop offset="0.74" stop-color="#ffb080"/><stop offset="0.75" stop-color="#ffb080"/><stop offset="0.77" stop-color="#ffe0b0"/><stop offset="0.78" stop-color="#ffc090"/><stop offset="0.8" stop-color="#ffe0b0"/><stop offset="0.81" stop-color="#ffc090"/><stop offset="0.83" stop-color="#ffd0a0"/><stop offset="0.84" stop-color="#ffd0a0"/><stop offset="0.86" stop-color="#ffb080"/><stop offset="0.87" stop-color="#ffe0b0"/><stop offset="0.88" stop-color="#ffd0a0"/><stop offset="0.9" stop-color="#ffe0b0"/><stop offset="0.91" stop-color="#ffc090"/><stop offset="0.93" stop-color="#ffd0a0"/><stop offset="0.94" stop-color="#ffc090"/><stop offset="0.96" stop-color="#ffe0b0"/><stop offset="0.97" stop-color="#ffc090"/><stop offset="0.99" stop-color="#ffd0a0"/><stop offset="1" stop-color="#ffc090"/></linearGradient><rect x="1309" y="801.1" width="417" height="1.1" fill="url(#bl4)"/>
<path d="M1303.5 800.5 L1304 786 L1305.5 776 L1304.5 768 L1306 759 L1312 756 L1316.5 762 L1316 772 L1317 785 L1318 800.5 Z" fill="#00e0c0"/>
<path d="M1304.5 800.5 L1305 786 L1306.5 776 L1306 768 L1308 762 L1312 761.5 L1314.5 766 L1314 772 L1315.5 785 L1316.5 800.5 Z" fill="#40ff40"/>
<path d="M1305 800.5 L1305.5 786 L1307.5 778 L1313.5 778 L1315 786 L1316 800.5 Z" fill="#ff0000"/>
<ellipse cx="1310.5" cy="767.5" rx="3.6" ry="5" fill="#ff1000"/>
<path d="M1726 800.5 L1727 770 L1728 748 L1731 740 L1735 741 L1736 760 L1737.5 780 L1739 800.5 Z" fill="#00ffff"/>
<path d="M1727.5 800.5 L1729 780 L1731 766 L1734 766 L1736 782 L1737.5 800.5 Z" fill="#60ff40"/>
<path d="M1728.5 800.5 L1730 790 L1735 790 L1736.5 800.5 Z" fill="#ff0000"/>
<rect x="1729.5" y="741" width="6" height="6" fill="#40ff60"/>
<rect x="1730" y="756" width="5" height="5" fill="#40ff60"/>
<rect x="1181.7" y="428.3" width="752.15" height="377.8" fill="none" stroke="#000" stroke-width="2.6"/>
<path d="M1185.12 804.8L1185.12 793.8M1185.12 429.6L1185.12 440.6M1205.81 804.8L1205.81 793.8M1205.81 429.6L1205.81 440.6M1226.5 804.8L1226.5 781.8M1226.5 429.6L1226.5 452.6M1247.19 804.8L1247.19 793.8M1247.19 429.6L1247.19 440.6M1267.88 804.8L1267.88 793.8M1267.88 429.6L1267.88 440.6M1288.56 804.8L1288.56 793.8M1288.56 429.6L1288.56 440.6M1309.25 804.8L1309.25 793.8M1309.25 429.6L1309.25 440.6M1329.94 804.8L1329.94 793.8M1329.94 429.6L1329.94 440.6M1350.62 804.8L1350.62 793.8M1350.62 429.6L1350.62 440.6M1371.31 804.8L1371.31 793.8M1371.31 429.6L1371.31 440.6M1392 804.8L1392 781.8M1392 429.6L1392 452.6M1412.69 804.8L1412.69 793.8M1412.69 429.6L1412.69 440.6M1433.38 804.8L1433.38 793.8M1433.38 429.6L1433.38 440.6M1454.06 804.8L1454.06 793.8M1454.06 429.6L1454.06 440.6M1474.75 804.8L1474.75 793.8M1474.75 429.6L1474.75 440.6M1495.44 804.8L1495.44 793.8M1495.44 429.6L1495.44 440.6M1516.12 804.8L1516.12 793.8M1516.12 429.6L1516.12 440.6M1536.81 804.8L1536.81 793.8M1536.81 429.6L1536.81 440.6M1557.5 804.8L1557.5 781.8M1557.5 429.6L1557.5 452.6M1578.19 804.8L1578.19 793.8M1578.19 429.6L1578.19 440.6M1598.88 804.8L1598.88 793.8M1598.88 429.6L1598.88 440.6M1619.56 804.8L1619.56 793.8M1619.56 429.6L1619.56 440.6M1640.25 804.8L1640.25 793.8M1640.25 429.6L1640.25 440.6M1660.94 804.8L1660.94 793.8M1660.94 429.6L1660.94 440.6M1681.62 804.8L1681.62 793.8M1681.62 429.6L1681.62 440.6M1702.31 804.8L1702.31 793.8M1702.31 429.6L1702.31 440.6M1723 804.8L1723 781.8M1723 429.6L1723 452.6M1743.69 804.8L1743.69 793.8M1743.69 429.6L1743.69 440.6M1764.38 804.8L1764.38 793.8M1764.38 429.6L1764.38 440.6M1785.06 804.8L1785.06 793.8M1785.06 429.6L1785.06 440.6M1805.75 804.8L1805.75 793.8M1805.75 429.6L1805.75 440.6M1826.44 804.8L1826.44 793.8M1826.44 429.6L1826.44 440.6M1847.12 804.8L1847.12 793.8M1847.12 429.6L1847.12 440.6M1867.81 804.8L1867.81 793.8M1867.81 429.6L1867.81 440.6M1888.5 804.8L1888.5 781.8M1888.5 429.6L1888.5 452.6M1909.19 804.8L1909.19 793.8M1909.19 429.6L1909.19 440.6M1929.88 804.8L1929.88 793.8M1929.88 429.6L1929.88 440.6M1183 802.7L1206 802.7M1932.55 802.7L1909.55 802.7M1183 790.38L1194.5 790.38M1932.55 790.38L1921.05 790.38M1183 778.06L1194.5 778.06M1932.55 778.06L1921.05 778.06M1183 765.74L1194.5 765.74M1932.55 765.74L1921.05 765.74M1183 753.42L1194.5 753.42M1932.55 753.42L1921.05 753.42M1183 741.1L1206 741.1M1932.55 741.1L1909.55 741.1M1183 728.78L1194.5 728.78M1932.55 728.78L1921.05 728.78M1183 716.46L1194.5 716.46M1932.55 716.46L1921.05 716.46M1183 704.14L1194.5 704.14M1932.55 704.14L1921.05 704.14M1183 691.82L1194.5 691.82M1932.55 691.82L1921.05 691.82M1183 679.5L1206 679.5M1932.55 679.5L1909.55 679.5M1183 667.18L1194.5 667.18M1932.55 667.18L1921.05 667.18M1183 654.86L1194.5 654.86M1932.55 654.86L1921.05 654.86M1183 642.54L1194.5 642.54M1932.55 642.54L1921.05 642.54M1183 630.22L1194.5 630.22M1932.55 630.22L1921.05 630.22M1183 617.9L1206 617.9M1932.55 617.9L1909.55 617.9M1183 605.58L1194.5 605.58M1932.55 605.58L1921.05 605.58M1183 593.26L1194.5 593.26M1932.55 593.26L1921.05 593.26M1183 580.94L1194.5 580.94M1932.55 580.94L1921.05 580.94M1183 568.62L1194.5 568.62M1932.55 568.62L1921.05 568.62M1183 556.3L1206 556.3M1932.55 556.3L1909.55 556.3M1183 543.98L1194.5 543.98M1932.55 543.98L1921.05 543.98M1183 531.66L1194.5 531.66M1932.55 531.66L1921.05 531.66M1183 519.34L1194.5 519.34M1932.55 519.34L1921.05 519.34M1183 507.02L1194.5 507.02M1932.55 507.02L1921.05 507.02M1183 494.7L1206 494.7M1932.55 494.7L1909.55 494.7M1183 482.38L1194.5 482.38M1932.55 482.38L1921.05 482.38M1183 470.06L1194.5 470.06M1932.55 470.06L1921.05 470.06M1183 457.74L1194.5 457.74M1932.55 457.74L1921.05 457.74M1183 445.42L1194.5 445.42M1932.55 445.42L1921.05 445.42M1183 433.1L1206 433.1M1932.55 433.1L1909.55 433.1" stroke="#000" stroke-width="2.7" fill="none"/>
<text x="1154.15" y="813.9" font-size="35.3" letter-spacing="0.15">0</text>
<text x="1114.58" y="752.3" font-size="35.3" letter-spacing="0.15">500</text>
<text x="1094.8" y="690.7" font-size="35.3" letter-spacing="0.15">1000</text>
<text x="1094.8" y="629.1" font-size="35.3" letter-spacing="0.15">1500</text>
<text x="1094.8" y="567.5" font-size="35.3" letter-spacing="0.15">2000</text>
<text x="1094.8" y="505.9" font-size="35.3" letter-spacing="0.15">2500</text>
<text x="1094.8" y="444.3" font-size="35.3" letter-spacing="0.15">3000</text>
<text x="1203.14" y="850.5" font-size="35.3" letter-spacing="0.6">0.8</text>
<text x="1368.11" y="850.5" font-size="35.3" letter-spacing="0.6">1.2</text>
<text x="1533.5" y="850.5" font-size="35.3" letter-spacing="0.6">1.6</text>
<text x="1699.37" y="850.5" font-size="35.3" letter-spacing="0.6">2.0</text>
<text x="1864.69" y="850.5" font-size="35.3" letter-spacing="0.6">2.4</text>
<text x="179.86" y="489.7" font-size="41" letter-spacing="1.65" font-weight="bold" fill="#fff">(a-2)</text>
<text x="1198.56" y="489.7" font-size="41" letter-spacing="1.74" font-weight="bold" fill="#fff">(b-2)</text>
<text x="-737.89" y="0" transform="translate(24.9 0) rotate(-90)" font-size="34.8" letter-spacing="1.14">frequency (Hz)</text>
<text x="-738.39" y="0" transform="translate(1054.4 0) rotate(-90)" font-size="34.8" letter-spacing="1.16">frequency (Hz)</text>
<text x="461.77" y="898.1" font-size="34.8" letter-spacing="0.96">time (s)</text>
<text x="1527.27" y="898.1" font-size="34.8" letter-spacing="1.04">time (s)</text>
<linearGradient id="cbg" x1="0" y1="0" x2="0" y2="1"><stop offset="0" stop-color="rgb(255,0,0)"/><stop offset="0.06" stop-color="rgb(255,64,0)"/><stop offset="0.11" stop-color="rgb(255,128,0)"/><stop offset="0.17" stop-color="rgb(255,191,0)"/><stop offset="0.22" stop-color="rgb(255,255,0)"/><stop offset="0.28" stop-color="rgb(191,255,0)"/><stop offset="0.33" stop-color="rgb(128,255,0)"/><stop offset="0.39" stop-color="rgb(64,255,0)"/><stop offset="0.44" stop-color="rgb(0,255,0)"/><stop offset="0.5" stop-color="rgb(0,255,64)"/><stop offset="0.56" stop-color="rgb(0,255,128)"/><stop offset="0.61" stop-color="rgb(0,255,191)"/><stop offset="0.67" stop-color="rgb(0,255,255)"/><stop offset="0.72" stop-color="rgb(0,191,255)"/><stop offset="0.78" stop-color="rgb(0,128,255)"/><stop offset="0.83" stop-color="rgb(0,64,255)"/><stop offset="0.89" stop-color="rgb(0,0,255)"/><stop offset="0.94" stop-color="rgb(64,0,255)"/><stop offset="1" stop-color="rgb(128,0,255)"/></linearGradient>
<rect x="762" y="511.3" width="101" height="241" fill="#fff"/>
<rect x="765.2" y="514.7" width="94.7" height="234.2" fill="none" stroke="#000" stroke-width="2.2"/>
<rect x="775.15" y="535.1" width="6.6" height="193.6" fill="url(#cbg)" stroke="#000" stroke-width="2"/>
<path d="M782.4 726.8L799.7 726.8M782.4 695.13L792.5 695.13M782.4 663.46L799.7 663.46M782.4 631.79L792.5 631.79M782.4 600.12L799.7 600.12M782.4 568.45L792.5 568.45M782.4 536.78L799.7 536.78" stroke="#000" stroke-width="2.2" fill="none"/>
<text x="808.24" y="735.4" font-size="24.5">0</text>
<text x="807.97" y="672.06" font-size="24.5">2</text>
<text x="808.64" y="608.72" font-size="24.5">4</text>
<text x="807.96" y="545.38" font-size="24.5">6</text>
<text x="547.42" y="0" transform="translate(826.7 0) rotate(90)" font-size="29" letter-spacing="0.2">PSD (a.u.)</text>
<rect x="1775.2" y="500.2" width="122.8" height="240.8" fill="#fff"/>
<rect x="1777.05" y="504" width="118.65" height="233.9" fill="none" stroke="#000" stroke-width="2"/>
<rect x="1788.25" y="523.55" width="6.3" height="194.1" fill="url(#cbg)" stroke="#000" stroke-width="2"/>
<path d="M1795 715.5L1812.9 715.5M1795 683.9L1812.9 683.9M1795 652.3L1812.9 652.3M1795 620.7L1812.9 620.7M1795 589.1L1812.9 589.1M1795 557.5L1812.9 557.5M1795 525.9L1812.9 525.9" stroke="#000" stroke-width="2.2" fill="none"/>
<text x="1821.01" y="723.8" font-size="25.3" letter-spacing="1">0.0</text>
<text x="1821.01" y="660.6" font-size="25.3" letter-spacing="1.13">0.1</text>
<text x="1821.01" y="597.4" font-size="25.3" letter-spacing="1.15">0.2</text>
<text x="1821.01" y="534.2" font-size="25.3" letter-spacing="1.06">0.3</text>
<text x="545.14" y="0" transform="translate(1865.4 0) rotate(90)" font-size="27.5" letter-spacing="0.99">PSD (a.u.)</text>
</svg></body></html>
